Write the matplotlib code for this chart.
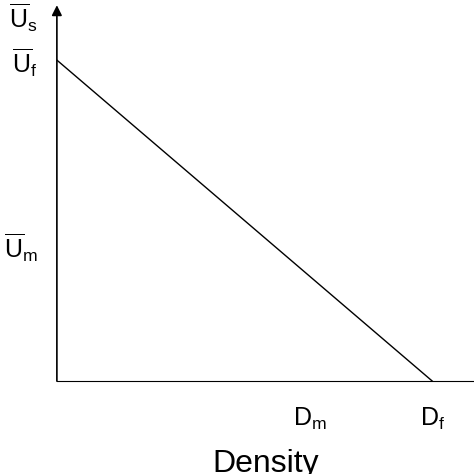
import matplotlib
matplotlib.use("Agg")
import matplotlib.pyplot as plt

plt.rcParams['font.family'] = ['Liberation Sans', 'DejaVu Sans']
plt.rcParams['mathtext.fontset'] = 'custom'
plt.rcParams['mathtext.rm'] = 'Liberation Sans'
plt.rcParams['mathtext.it'] = 'Liberation Sans'

line_x = [0.0, 0.9]
line_y = [0.854, 0.0]
xtick_pos = [0.607, 0.9]
xtick_labels = [r'$\mathrm{D_m}$', r'$\mathrm{D_f}$']
ytick_pos = [0.362, 0.854, 0.975]
ytick_labels = [r'$\overline{\mathrm{U}}_\mathrm{m}$', r'$\overline{\mathrm{U}}_\mathrm{f}$', r'$\overline{\mathrm{U}}_\mathrm{s}$']

fig = plt.figure(figsize=(4.74, 4.74), dpi=100)
ax = fig.add_axes([0.12, 0.196, 0.88, 0.793])
ax.plot(line_x, line_y, color='black', lw=1)
ax.set_xlim(0, 1)
ax.set_ylim(0, 1)
for s in ['top', 'right']:
    ax.spines[s].set_visible(False)
ax.spines['left'].set_visible(False)
ax.annotate('', xy=(0, 1.0), xytext=(0, 0), xycoords='axes fraction',
            arrowprops=dict(arrowstyle='-|>', color='black', lw=1.2, mutation_scale=15, shrinkA=0, shrinkB=0))
ax.set_xticks(xtick_pos, xtick_labels, fontsize=18)
ax.set_yticks(ytick_pos, ytick_labels, fontsize=18)
ax.tick_params(axis='x', length=0, pad=18)
ax.tick_params(axis='y', length=0, pad=14)
ax.set_xlabel('Density', fontsize=23, labelpad=12)
fig.savefig('out.png')
